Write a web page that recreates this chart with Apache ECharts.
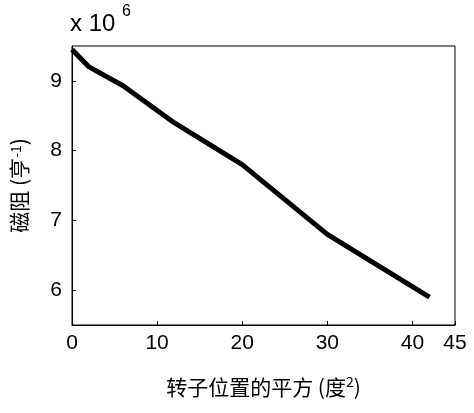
<!DOCTYPE html><html><head><meta charset="utf-8"><script src="https://cdn.jsdelivr.net/npm/echarts@6/dist/echarts.min.js"></script></head><body style="margin:0"><div id="c" style="width:474px;height:413px"></div><script>
const xs=[0,2,6,12,20,30,42];
const ys=[9.45,9.2,8.93,8.4,7.8,6.8,5.9];
const xLabels=[0,10,20,30,40,45];
const yLabels=[6,7,8,9];
const c=echarts.init(document.getElementById('c'));
const f='Arial, Liberation Sans, sans-serif';
c.setOption({
animation:false,
grid:{left:72,right:19,top:46,bottom:88,show:true,borderColor:'#000',borderWidth:1},
graphic:[{type:'text',left:70,top:12,style:{text:'x 10',font:'24px '+f,fill:'#000'}},
{type:'text',left:122,top:4,style:{text:'6',font:'16px '+f,fill:'#000'}}],
xAxis:{type:'value',min:0,max:45,
axisLine:{lineStyle:{color:'#000'}},axisTick:{inside:true,length:4,customValues:xLabels,lineStyle:{color:'#000'}},splitLine:{show:false},
axisLabel:{color:'#000',fontSize:21,fontFamily:f,margin:8,customValues:xLabels},
name:'转子位置的平方 (度{s|2})',nameLocation:'middle',nameGap:50,
nameTextStyle:{color:'#000',fontSize:21,fontFamily:'Noto Sans CJK SC',rich:{s:{fontSize:14,verticalAlign:'top',padding:[0,0,10,0]}}}},
yAxis:{type:'value',min:5.5,max:9.5,
axisLine:{lineStyle:{color:'#000'}},axisTick:{inside:true,length:4,customValues:yLabels,lineStyle:{color:'#000'}},splitLine:{show:false},
axisLabel:{color:'#000',fontSize:21,fontFamily:f,margin:10,customValues:yLabels},
name:'磁阻 (亨{s|-1})',nameLocation:'middle',nameGap:42,
nameTextStyle:{color:'#000',fontSize:21,fontFamily:'Noto Sans CJK SC',rich:{s:{fontSize:14,verticalAlign:'top'}}}},
series:[{type:'line',data:xs.map((x,i)=>[x,ys[i]]),symbol:'none',lineStyle:{color:'#000',width:5}}]
});
</script></body></html>
